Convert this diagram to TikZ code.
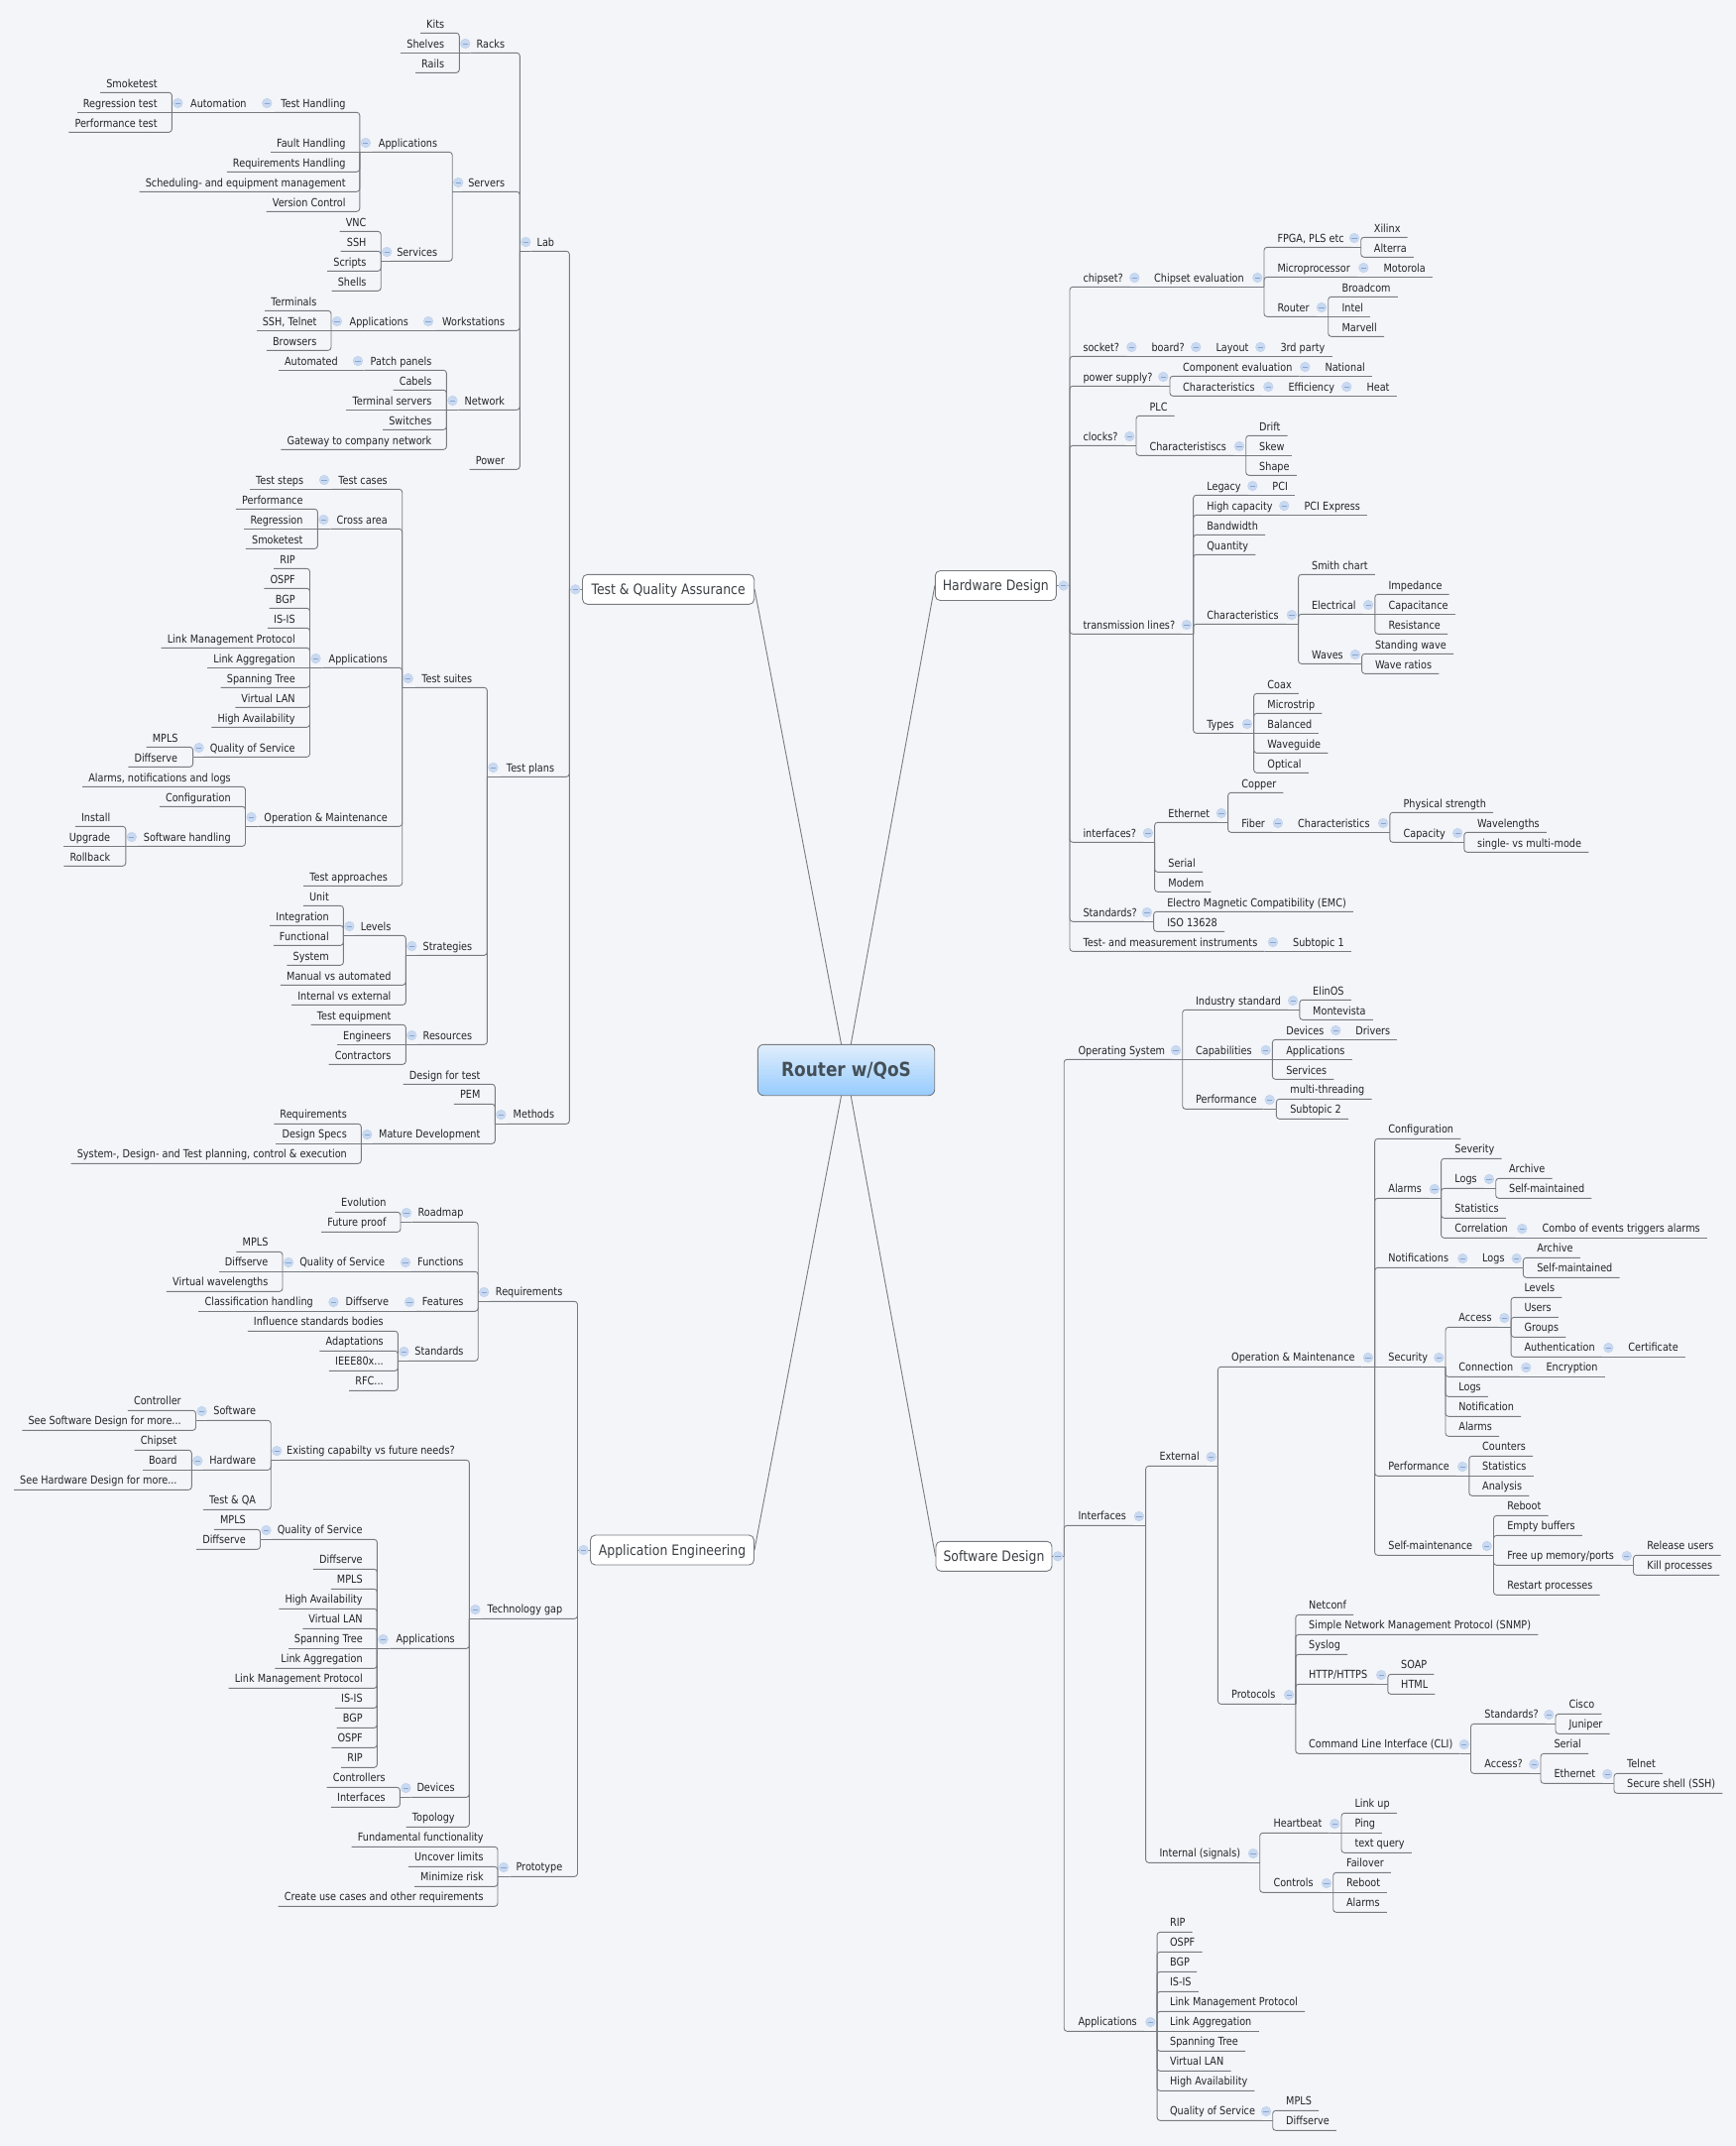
\documentclass[tikz,border=0pt]{standalone}
\usepackage{fontspec}
\setmainfont[FakeStretch=0.865]{DejaVu Sans}
\definecolor{pagebg}{HTML}{F3F5F9}
\definecolor{linegray}{HTML}{777B80}
\definecolor{inkdark}{HTML}{222426}
\definecolor{boxink}{HTML}{3C4044}
\definecolor{rootink}{HTML}{444F57}
\definecolor{rootop}{HTML}{E0EEFC}
\definecolor{rootbot}{HTML}{96CBFE}
\definecolor{iconfill}{HTML}{C9D9F0}
\definecolor{iconbar}{HTML}{87A5D2}
\tikzset{
    topic/.style = {font=\fontsize{11.2}{13}\selectfont,text=inkdark,inner ysep=0pt,text height=9pt,text depth=5pt},
    ltopic/.style = {topic,anchor=south east,inner xsep=6pt,xshift=6pt},
    rtopic/.style = {topic,anchor=south west,inner xsep=7pt,xshift=-7pt},
    link/.style = {draw=linegray,line width=0.9pt,rounded corners=3pt},
    mainbox/.style = {draw=linegray,fill=white,rounded corners=5pt,line width=0.9pt,minimum height=30pt,
        inner sep=0pt,text=boxink,text height=10pt,text depth=0pt,font=\fontsize{14.4}{16}\selectfont},
    rootbox/.style = {draw=linegray,top color=rootop,bottom color=rootbot,rounded corners=6pt,line width=0.9pt,
        minimum width=178.4pt,minimum height=51.4pt,inner sep=0pt,text=rootink,text height=12pt,text depth=0pt,
        font=\fontsize{19.6}{22}\selectfont\bfseries},
    minusdisc/.style = {fill=iconfill,draw=iconfill!85!iconbar,line width=0.5pt},
    minusbar/.style = {draw=iconbar,line width=0.9pt}
}
% minus sign beside a bracket, at a point
\newcommand{\minusat}[1]{
    \path[minusdisc] (#1) circle (4.8pt);
    \draw[minusbar] ([xshift=-2.6pt]#1) -- ([xshift=2.6pt]#1);
}
% line from a bracket point to the far end of a child: straight if they are level
\newcommand{\joinkid}[3]{
    \pgfpointanchor{#1}{center}\pgfgetlastxy{\fromx}{\fromy}
    \pgfpointanchor{#2}{#3}\pgfgetlastxy{\tox}{\toy}
    \pgfmathparse{abs(\fromy-\toy)<0.5 ? 1 : 0}
    \ifnum\pgfmathresult=1
        \draw[link] (#1) -- (#2.#3);
    \else
        \draw[link] (#1) |- (#2.#3);
    \fi
}
% children on the left of a parent: bracket x, parent, children
\newcommand{\lkids}[3]{
    \coordinate (#2br) at (#2.south west -| #1,0);
    \draw[link] (#2.south west) -- (#2br);
    \foreach \kid in {#3} {\joinkid{#2br}{\kid}{south west}}
    \coordinate (#2ic) at ([shift={(6,-9.3)}]#2br);
    \minusat{#2ic}
}
% children on the right of a parent: bracket x, parent, children
\newcommand{\rkids}[3]{
    \coordinate (#2br) at (#2.south east -| #1,0);
    \draw[link] (#2.south east) -- (#2br);
    \foreach \kid in {#3} {\joinkid{#2br}{\kid}{south east}}
    \coordinate (#2ic) at ([shift={(-6.7,-9.3)}]#2br);
    \minusat{#2ic}
}
\begin{document}
\begin{tikzpicture}[x=1pt,y=-1pt]
    \useasboundingbox (0,0) rectangle (1751,2164);
    \fill[pagebg] (0,0) rectangle (1751,2164);

    % centre and main topics
    \node[rootbox] (router) at (853.5,1079) {Router w/QoS};
    \node[mainbox,minimum width=173.2pt] (tqa) at (674.1,594.3) {Test \& Quality Assurance};
    \node[mainbox,minimum width=165pt] (appeng) at (678,1563) {Application Engineering};
    \node[mainbox,minimum width=122pt] (hwd) at (1004.3,590.5) {Hardware Design};
    \node[mainbox,minimum width=117pt] (swd) at (1002.5,1569.3) {Software Design};
    \draw[link] (router) -- (tqa.east);
    \draw[link] (router) -- (appeng.east);
    \draw[link] (router) -- (hwd.west);
    \draw[link] (router) -- (swd.west);

    \coordinate (tqabr) at (574.3,594.3);
    \coordinate (appbr) at (582.5,1563);
    \coordinate (hwdbr) at (1079,590.5);
    \coordinate (swdbr) at (1073.2,1569.3);

    % Test & Quality Assurance: lab
    \node[ltopic] (lab) at (559.3,253.3) {Lab};
    \node[ltopic] (racks) at (509.3,53.3) {Racks};
    \node[ltopic] (kits) at (448.3,33.3) {Kits};
    \node[ltopic] (shelves) at (448.3,53.3) {Shelves};
    \node[ltopic] (rails) at (448.3,73.3) {Rails};
    \node[ltopic] (servers) at (509.3,193.3) {Servers};
    \node[ltopic] (srvapps) at (441.3,153.3) {Applications};
    \node[ltopic] (testhand) at (348.8,113.3) {Test Handling};
    \node[ltopic] (automation) at (248.8,113.3) {Automation};
    \node[ltopic] (smoke) at (158.8,93.3) {Smoketest};
    \node[ltopic] (regress) at (158.8,113.3) {Regression test};
    \node[ltopic] (perftest) at (158.8,133.3) {Performance test};
    \node[ltopic] (faulth) at (348.8,153.3) {Fault Handling};
    \node[ltopic] (reqh) at (348.8,173.3) {Requirements Handling};
    \node[ltopic] (schedm) at (348.8,193.3) {Scheduling- and equipment management};
    \node[ltopic] (versc) at (348.8,213.3) {Version Control};
    \node[ltopic] (services) at (441.3,263.3) {Services};
    \node[ltopic] (vnc) at (369.7,233.3) {VNC};
    \node[ltopic] (ssh) at (369.7,253.3) {SSH};
    \node[ltopic] (scripts) at (369.7,273.3) {Scripts};
    \node[ltopic] (shells) at (369.7,293.3) {Shells};
    \node[ltopic] (workst) at (509.3,333.3) {Workstations};
    \node[ltopic] (wsapps) at (412,333.3) {Applications};
    \node[ltopic] (terminals) at (319.6,313.3) {Terminals};
    \node[ltopic] (sshtel) at (319.6,333.3) {SSH, Telnet};
    \node[ltopic] (browsers) at (319.6,353.3) {Browsers};
    \node[ltopic] (network) at (509.3,413.3) {Network};
    \node[ltopic] (patch) at (435.5,373.3) {Patch panels};
    \node[ltopic] (automated) at (341,373.3) {Automated};
    \node[ltopic] (cabels) at (435.5,393.3) {Cabels};
    \node[ltopic] (termsrv) at (435.5,413.3) {Terminal servers};
    \node[ltopic] (switches) at (435.5,433.3) {Switches};
    \node[ltopic] (gateway) at (435.5,453.3) {Gateway to company network};
    \node[ltopic] (power) at (509.3,473.3) {Power};

    % Test & Quality Assurance: test plans
    \node[ltopic] (plans) at (559.3,783.3) {Test plans};
    \node[ltopic] (suites) at (476.4,693.3) {Test suites};
    \node[ltopic] (cases) at (391,493.3) {Test cases};
    \node[ltopic] (steps) at (306.4,493.3) {Test steps};
    \node[ltopic] (cross) at (391,533.3) {Cross area};
    \node[ltopic] (caperf) at (305.7,513.3) {Performance};
    \node[ltopic] (careg) at (305.7,533.3) {Regression};
    \node[ltopic] (casmoke) at (305.7,553.3) {Smoketest};
    \node[ltopic] (tsapps) at (391,673.3) {Applications};
    \node[ltopic] (tsrip) at (297.9,573.3) {RIP};
    \node[ltopic] (tsospf) at (297.9,593.3) {OSPF};
    \node[ltopic] (tsbgp) at (297.9,613.3) {BGP};
    \node[ltopic] (tsisis) at (297.9,633.3) {IS-IS};
    \node[ltopic] (tslmp) at (297.9,653.3) {Link Management Protocol};
    \node[ltopic] (tslag) at (297.9,673.3) {Link Aggregation};
    \node[ltopic] (tsstp) at (297.9,693.3) {Spanning Tree};
    \node[ltopic] (tsvlan) at (297.9,713.3) {Virtual LAN};
    \node[ltopic] (tsha) at (297.9,733.3) {High Availability};
    \node[ltopic] (tsqos) at (297.9,763.3) {Quality of Service};
    \node[ltopic] (tsmpls) at (179.8,753.3) {MPLS};
    \node[ltopic] (tsdiff) at (179.3,773.3) {Diffserve};
    \node[ltopic] (tsom) at (391,833.3) {Operation \& Maintenance};
    \node[ltopic] (tsalarms) at (232.9,793.3) {Alarms, notifications and logs};
    \node[ltopic] (tsconf) at (232.9,813.3) {Configuration};
    \node[ltopic] (tssoft) at (232.9,853.3) {Software handling};
    \node[ltopic] (install) at (111.4,833.3) {Install};
    \node[ltopic] (upgrade) at (111.4,853.3) {Upgrade};
    \node[ltopic] (rollback) at (111.4,873.3) {Rollback};
    \node[ltopic] (approach) at (391,893.3) {Test approaches};
    \node[ltopic] (strateg) at (476.4,963.3) {Strategies};
    \node[ltopic] (levels) at (394.6,943.3) {Levels};
    \node[ltopic] (unit) at (332,913.3) {Unit};
    \node[ltopic] (integr) at (332,933.3) {Integration};
    \node[ltopic] (funct) at (332,953.3) {Functional};
    \node[ltopic] (system) at (332,973.3) {System};
    \node[ltopic] (manual) at (394.6,993.3) {Manual vs automated};
    \node[ltopic] (internal) at (394.6,1013.3) {Internal vs external};
    \node[ltopic] (resources) at (476.4,1053.3) {Resources};
    \node[ltopic] (equip) at (394.6,1033.3) {Test equipment};
    \node[ltopic] (engineers) at (394.6,1053.3) {Engineers};
    \node[ltopic] (contract) at (394.6,1073.3) {Contractors};

    % Test & Quality Assurance: methods
    \node[ltopic] (dft) at (484.6,1093.3) {Design for test};

    \begin{scope}[topic/.append style={text depth=6pt}]
    \node[ltopic] (methods) at (559.3,1133.3) {Methods};
    \node[ltopic] (pem) at (484.6,1113.3) {PEM};
    \node[ltopic] (mature) at (484.6,1153.3) {Mature Development};
    \node[ltopic] (mdreq) at (350,1133.3) {Requirements};
    \node[ltopic] (mdspecs) at (350,1153.3) {Design Specs};
    \node[ltopic] (mdplan) at (350,1173.3) {System-, Design- and Test planning, control \& execution};

    % Application Engineering: requirements
    \node[ltopic] (req) at (567.5,1312.3) {Requirements};
    \node[ltopic] (roadmap) at (467.7,1232.3) {Roadmap};
    \node[ltopic] (evol) at (389.6,1222.3) {Evolution};
    \node[ltopic] (future) at (389.6,1242.3) {Future proof};
    \node[ltopic] (functions) at (467.7,1282.3) {Functions};
    \node[ltopic] (fnqos) at (388.4,1282.3) {Quality of Service};
    \node[ltopic] (fnmpls) at (270.6,1262.3) {MPLS};
    \node[ltopic] (fndiff) at (270.6,1282.3) {Diffserve};
    \node[ltopic] (fnvw) at (270.6,1302.3) {Virtual wavelengths};
    \node[ltopic] (features) at (467.7,1322.3) {Features};
    \node[ltopic] (ftdiff) at (392.3,1322.3) {Diffserve};
    \node[ltopic] (ftclass) at (316,1322.3) {Classification handling};
    \node[ltopic] (standards) at (467.7,1372.3) {Standards};
    \node[ltopic] (influ) at (386.9,1342.3) {Influence standards bodies};
    \node[ltopic] (adapt) at (386.9,1362.3) {Adaptations};
    \node[ltopic] (ieee) at (386.9,1382.3) {IEEE80x...};
    \node[ltopic] (rfc) at (386.9,1402.3) {RFC...};

    % Application Engineering: technology gap
    \node[ltopic] (techgap) at (567.5,1632.3) {Technology gap};
    \node[ltopic] (existing) at (458.9,1472.3) {Existing capabilty vs future needs?};
    \node[ltopic] (exsoft) at (258.3,1432.3) {Software};
    \node[ltopic] (exctrl) at (182.9,1422.3) {Controller};
    \node[ltopic] (exsee) at (182.9,1442.3) {See Software Design for more...};
    \node[ltopic] (exhard) at (258.3,1482.3) {Hardware};
    \node[ltopic] (exchip) at (178.7,1462.3) {Chipset};
    \node[ltopic] (exboard) at (178.7,1482.3) {Board};
    \node[ltopic] (exseeh) at (178.7,1502.3) {See Hardware Design for more...};
    \node[ltopic] (extest) at (258.3,1522.3) {Test \& QA};
    \node[ltopic] (tgapps) at (458.9,1662.3) {Applications};
    \node[ltopic] (tgqos) at (365.9,1552.3) {Quality of Service};
    \node[ltopic] (tgqmpls) at (248,1542.3) {MPLS};
    \node[ltopic] (tgqdiff) at (248,1562.3) {Diffserve};
    \node[ltopic] (tgdiff) at (365.9,1582.3) {Diffserve};
    \node[ltopic] (tgmpls) at (365.9,1602.3) {MPLS};
    \node[ltopic] (tgha) at (365.9,1622.3) {High Availability};
    \node[ltopic] (tgvlan) at (365.9,1642.3) {Virtual LAN};
    \node[ltopic] (tgstp) at (365.9,1662.3) {Spanning Tree};
    \node[ltopic] (tglag) at (365.9,1682.3) {Link Aggregation};
    \node[ltopic] (tglmp) at (365.9,1702.3) {Link Management Protocol};
    \node[ltopic] (tgisis) at (365.9,1722.3) {IS-IS};
    \node[ltopic] (tgbgp) at (365.9,1742.3) {BGP};
    \node[ltopic] (tgospf) at (365.9,1762.3) {OSPF};
    \node[ltopic] (tgrip) at (365.9,1782.3) {RIP};
    \node[ltopic] (devices) at (458.9,1812.3) {Devices};
    \node[ltopic] (ctrls) at (388.8,1802.3) {Controllers};
    \node[ltopic] (ifaces) at (388.8,1822.3) {Interfaces};
    \node[ltopic] (topology) at (458.9,1842.3) {Topology};

    % Application Engineering: prototype
    \node[ltopic] (proto) at (567.5,1892.3) {Prototype};
    \node[ltopic] (fund) at (487.9,1862.3) {Fundamental functionality};
    \node[ltopic] (uncover) at (487.9,1882.3) {Uncover limits};
    \node[ltopic] (minrisk) at (487.9,1902.3) {Minimize risk};
    \node[ltopic] (usecases) at (487.9,1922.3) {Create use cases and other requirements};
    \end{scope}

    % Hardware Design
    \node[rtopic] (chipset) at (1092.3,289.3) {chipset?};
    \node[rtopic] (chipev) at (1164,289.3) {Chipset evaluation};
    \node[rtopic] (fpga) at (1288.3,249.3) {FPGA, PLS etc};
    \node[rtopic] (xilinx) at (1385.7,239.3) {Xilinx};
    \node[rtopic] (alterra) at (1385.7,259.3) {Alterra};
    \node[rtopic] (micro) at (1288.3,279.3) {Microprocessor};
    \node[rtopic] (motorola) at (1395.3,279.3) {Motorola};
    \node[rtopic] (router2) at (1288.3,319.3) {Router};
    \node[rtopic] (broadcom) at (1353.3,299.3) {Broadcom};
    \node[rtopic] (intel) at (1353.3,319.3) {Intel};
    \node[rtopic] (marvell) at (1353.3,339.3) {Marvell};
    \node[rtopic] (socket) at (1092.3,359.3) {socket?};
    \node[rtopic] (board) at (1161.3,359.3) {board?};
    \node[rtopic] (layout) at (1226.3,359.3) {Layout};
    \node[rtopic] (third) at (1291.3,359.3) {3rd party};
    \node[rtopic] (psupply) at (1092.3,389.3) {power supply?};
    \node[rtopic] (compev) at (1193,379.3) {Component evaluation};
    \node[rtopic] (national) at (1336.3,379.3) {National};
    \node[rtopic] (pschar) at (1193,399.3) {Characteristics};
    \node[rtopic] (effic) at (1299.3,399.3) {Efficiency};
    \node[rtopic] (heat) at (1378.3,399.3) {Heat};
    \node[rtopic] (clocks) at (1092.3,449.3) {clocks?};
    \node[rtopic] (plc) at (1159.3,419.3) {PLC};
    \node[rtopic] (clchar) at (1159.3,459.3) {Characteristiscs};
    \node[rtopic] (drift) at (1270,439.3) {Drift};
    \node[rtopic] (skew) at (1270,459.3) {Skew};
    \node[rtopic] (shape) at (1270,479.3) {Shape};
    \node[rtopic] (translines) at (1092.3,639.3) {transmission lines?};
    \node[rtopic] (legacy) at (1217.1,499.3) {Legacy};
    \node[rtopic] (pci) at (1283.2,499.3) {PCI};
    \node[rtopic] (highcap) at (1217.1,519.3) {High capacity};
    \node[rtopic] (pciex) at (1315.4,519.3) {PCI Express};
    \node[rtopic] (bandw) at (1217.1,539.3) {Bandwidth};
    \node[rtopic] (quant) at (1217.1,559.3) {Quantity};
    \node[rtopic] (tlchar) at (1217.1,629.3) {Characteristics};
    \node[rtopic] (smith) at (1322.9,579.3) {Smith chart};
    \node[rtopic] (electr) at (1322.9,619.3) {Electrical};
    \node[rtopic] (imped) at (1400.4,599.3) {Impedance};
    \node[rtopic] (capac) at (1400.4,619.3) {Capacitance};
    \node[rtopic] (resist) at (1400.4,639.3) {Resistance};
    \node[rtopic] (waves) at (1322.9,669.3) {Waves};
    \node[rtopic] (standw) at (1386.8,659.3) {Standing wave};
    \node[rtopic] (waver) at (1386.8,679.3) {Wave ratios};
    \node[rtopic] (types) at (1217.1,739.3) {Types};
    \node[rtopic] (coax) at (1278.2,699.3) {Coax};
    \node[rtopic] (microst) at (1278.2,719.3) {Microstrip};
    \node[rtopic] (balanced) at (1278.2,739.3) {Balanced};
    \node[rtopic] (waveg) at (1278.2,759.3) {Waveguide};
    \node[rtopic] (optical) at (1278.2,779.3) {Optical};
    \node[rtopic] (ifq) at (1092.3,849.3) {interfaces?};
    \node[rtopic] (ether) at (1178.2,829.3) {Ethernet};
    \node[rtopic] (copper) at (1252.1,799.3) {Copper};
    \node[rtopic] (fiber) at (1252.1,839.3) {Fiber};
    \node[rtopic] (fbchar) at (1308.9,839.3) {Characteristics};
    \node[rtopic] (physs) at (1415.4,819.3) {Physical strength};
    \node[rtopic] (capacity) at (1415.4,849.3) {Capacity};
    \node[rtopic] (wavel) at (1490,839.3) {Wavelengths};
    \node[rtopic] (single) at (1490,859.3) {single- vs multi-mode};
    \node[rtopic] (serial) at (1178.2,879.3) {Serial};
    \node[rtopic] (modem) at (1178.2,899.3) {Modem};
    \node[rtopic] (stdq) at (1092.3,929.3) {Standards?};
    \node[rtopic] (emc) at (1177.1,919.3) {Electro Magnetic Compatibility (EMC)};
    \node[rtopic] (iso) at (1177.1,939.3) {ISO 13628};
    \node[rtopic] (testmeas) at (1092.3,959.3) {Test- and measurement instruments};
    \node[rtopic] (subone) at (1303.9,959.3) {Subtopic 1};

    % Software Design: operating system
    \node[rtopic] (opsys) at (1087.3,1068.3) {Operating System};
    \node[rtopic] (indust) at (1205.9,1018.3) {Industry standard};
    \node[rtopic] (elinos) at (1324,1008.3) {ElinOS};
    \node[rtopic] (montev) at (1324,1028.3) {Montevista};
    \node[rtopic] (capab) at (1205.9,1068.3) {Capabilities};
    \node[rtopic] (devs) at (1297.1,1048.3) {Devices};
    \node[rtopic] (drivers) at (1367.2,1048.3) {Drivers};
    \node[rtopic] (capapps) at (1297.1,1068.3) {Applications};
    \node[rtopic] (capserv) at (1297.1,1088.3) {Services};

    \begin{scope}[topic/.append style={text depth=6pt}]
    \node[rtopic] (osperf) at (1205.9,1118.3) {Performance};
    \node[rtopic] (multi) at (1301.1,1108.3) {multi-threading};
    \node[rtopic] (subtwo) at (1301.1,1128.3) {Subtopic 2};

    % Software Design: interfaces, operation and maintenance
    \node[rtopic] (swif) at (1087.3,1538.3) {Interfaces};
    \node[rtopic] (external) at (1169.3,1478.3) {External};
    \node[rtopic] (swom) at (1242,1378.3) {Operation \& Maintenance};
    \node[rtopic] (swconf) at (1400.2,1148.3) {Configuration};
    \node[rtopic] (swalarms) at (1400.2,1208.3) {Alarms};
    \node[rtopic] (severity) at (1467.2,1168.3) {Severity};
    \node[rtopic] (allogs) at (1467.2,1198.3) {Logs};
    \node[rtopic] (alarch) at (1521.9,1188.3) {Archive};
    \node[rtopic] (alself) at (1521.9,1208.3) {Self-maintained};
    \node[rtopic] (alstat) at (1467.2,1228.3) {Statistics};
    \node[rtopic] (correl) at (1467.2,1248.3) {Correlation};
    \node[rtopic] (combo) at (1555.4,1248.3) {Combo of events triggers alarms};
    \node[rtopic] (notif) at (1400.2,1278.3) {Notifications};
    \node[rtopic] (nologs) at (1495,1278.3) {Logs};
    \node[rtopic] (noarch) at (1550.1,1268.3) {Archive};
    \node[rtopic] (noself) at (1550.1,1288.3) {Self-maintained};
    \node[rtopic] (security) at (1400.2,1378.3) {Security};
    \node[rtopic] (access) at (1471.2,1338.3) {Access};
    \node[rtopic] (aclev) at (1537.3,1308.3) {Levels};
    \node[rtopic] (acusers) at (1537.3,1328.3) {Users};
    \node[rtopic] (acgroups) at (1537.3,1348.3) {Groups};
    \node[rtopic] (acauth) at (1537.3,1368.3) {Authentication};
    \node[rtopic] (certif) at (1642.2,1368.3) {Certificate};
    \node[rtopic] (connect) at (1471.2,1388.3) {Connection};
    \node[rtopic] (encrypt) at (1559.3,1388.3) {Encryption};
    \node[rtopic] (selogs) at (1471.2,1408.3) {Logs};
    \node[rtopic] (senotif) at (1471.2,1428.3) {Notification};
    \node[rtopic] (sealarms) at (1471.2,1448.3) {Alarms};
    \node[rtopic] (swperf) at (1400.2,1488.3) {Performance};
    \node[rtopic] (counters) at (1495,1468.3) {Counters};
    \node[rtopic] (pfstat) at (1495,1488.3) {Statistics};
    \node[rtopic] (analysis) at (1495,1508.3) {Analysis};
    \node[rtopic] (selfm) at (1400.2,1568.3) {Self-maintenance};
    \node[rtopic] (smreboot) at (1520.1,1528.3) {Reboot};
    \node[rtopic] (empty) at (1520.1,1548.3) {Empty buffers};
    \node[rtopic] (freeup) at (1520.1,1578.3) {Free up memory/ports};
    \node[rtopic] (release) at (1661.2,1568.3) {Release users};
    \node[rtopic] (killp) at (1661.2,1588.3) {Kill processes};
    \node[rtopic] (restart) at (1520.1,1608.3) {Restart processes};

    % Software Design: protocols
    \node[rtopic] (protocols) at (1242,1718.3) {Protocols};
    \node[rtopic] (netconf) at (1320,1628.3) {Netconf};
    \node[rtopic] (snmp) at (1320,1648.3) {Simple Network Management Protocol (SNMP)};
    \node[rtopic] (syslog) at (1320,1668.3) {Syslog};
    \node[rtopic] (http) at (1320,1698.3) {HTTP/HTTPS};
    \node[rtopic] (soap) at (1413,1688.3) {SOAP};
    \node[rtopic] (html) at (1413,1708.3) {HTML};
    \node[rtopic] (cli) at (1320,1768.3) {Command Line Interface (CLI)};
    \node[rtopic] (clistd) at (1497.2,1738.3) {Standards?};
    \node[rtopic] (cisco) at (1582.3,1728.3) {Cisco};
    \node[rtopic] (juniper) at (1582.3,1748.3) {Juniper};
    \node[rtopic] (cliacc) at (1497.2,1788.3) {Access?};
    \node[rtopic] (clserial) at (1567.3,1768.3) {Serial};
    \node[rtopic] (clether) at (1567.3,1798.3) {Ethernet};
    \node[rtopic] (telnet) at (1640.9,1788.3) {Telnet};
    \node[rtopic] (secsh) at (1640.9,1808.3) {Secure shell (SSH)};

    % Software Design: internal signals
    \node[rtopic] (internsig) at (1169.3,1878.3) {Internal (signals)};
    \node[rtopic] (heartb) at (1284.3,1848.3) {Heartbeat};
    \node[rtopic] (linkup) at (1366.3,1828.3) {Link up};
    \node[rtopic] (ping) at (1366.3,1848.3) {Ping};
    \node[rtopic] (textq) at (1366.3,1868.3) {text query};
    \node[rtopic] (controls) at (1284.3,1908.3) {Controls};
    \node[rtopic] (failover) at (1357.9,1888.3) {Failover};
    \node[rtopic] (coreboot) at (1357.9,1908.3) {Reboot};
    \node[rtopic] (coalarms) at (1357.9,1928.3) {Alarms};

    % Software Design: applications
    \node[rtopic] (swapps) at (1087.3,2048.3) {Applications};
    \node[rtopic] (swrip) at (1179.9,1948.3) {RIP};
    \node[rtopic] (swospf) at (1179.9,1968.3) {OSPF};
    \node[rtopic] (swbgp) at (1179.9,1988.3) {BGP};
    \node[rtopic] (swisis) at (1179.9,2008.3) {IS-IS};
    \node[rtopic] (swlmp) at (1179.9,2028.3) {Link Management Protocol};
    \node[rtopic] (swlag) at (1179.9,2048.3) {Link Aggregation};
    \node[rtopic] (swstp) at (1179.9,2068.3) {Spanning Tree};
    \node[rtopic] (swvlan) at (1179.9,2088.3) {Virtual LAN};
    \node[rtopic] (swha) at (1179.9,2108.3) {High Availability};
    \node[rtopic] (swqos) at (1179.9,2138.3) {Quality of Service};
    \node[rtopic] (swmpls) at (1297,2128.3) {MPLS};
    \node[rtopic] (swdiff) at (1297,2148.3) {Diffserve};
    \end{scope}

    % connectors of the main topics
    \draw[link] (tqa.west) -- (tqabr);
    \draw[link] (appeng.west) -- (appbr);
    \draw[link] (hwd.east) -- (hwdbr);
    \draw[link] (swd.east) -- (swdbr);
    \foreach \kid in {lab,plans,methods} \draw[link] (tqabr) |- (\kid.south west);
    \foreach \kid in {req,techgap,proto} \draw[link] (appbr) |- (\kid.south west);
    \foreach \kid in {chipset,socket,psupply,clocks,translines,ifq,stdq,testmeas} \draw[link] (hwdbr) |- (\kid.south east);
    \foreach \kid in {opsys,swif,swapps} \draw[link] (swdbr) |- (\kid.south east);
    \coordinate (tqaic) at (580.3,594.3);
    \coordinate (appic) at (588.5,1563);
    \coordinate (hwdic) at (1072.7,590.5);
    \coordinate (swdic) at (1067,1569.3);
    \minusat{tqaic}
    \minusat{appic}
    \minusat{hwdic}
    \minusat{swdic}

    % left side
    \lkids{524.3}{lab}{racks,servers,workst,network,power}
    \lkids{463.3}{racks}{kits,shelves,rails}
    \lkids{456.2}{servers}{srvapps,services}
    \lkids{362.8}{srvapps}{testhand,faulth,reqh,schedm,versc}
    \lkids{263.3}{testhand}{automation}
    \lkids{173.4}{automation}{smoke,regress,perftest}
    \lkids{384.2}{services}{vnc,ssh,scripts,shells}
    \lkids{426}{workst}{wsapps}
    \lkids{334}{wsapps}{terminals,sshtel,browsers}
    \lkids{450.4}{network}{patch,cabels,termsrv,switches,gateway}
    \lkids{355}{patch}{automated}
    \lkids{491.4}{plans}{suites,strateg,resources}
    \lkids{405.7}{suites}{cases,cross,tsapps,tsom,approach}
    \lkids{321}{cases}{steps}
    \lkids{320.4}{cross}{caperf,careg,casmoke}
    \lkids{312.5}{tsapps}{tsrip,tsospf,tsbgp,tsisis,tslmp,tslag,tsstp,tsvlan,tsha,tsqos}
    \lkids{194.6}{tsqos}{tsmpls,tsdiff}
    \lkids{247.5}{tsom}{tsalarms,tsconf,tssoft}
    \lkids{126.8}{tssoft}{install,upgrade,rollback}
    \lkids{409.3}{strateg}{levels,manual,internal}
    \lkids{346.4}{levels}{unit,integr,funct,system}
    \lkids{409.3}{resources}{equip,engineers,contract}
    \lkids{499.3}{methods}{dft,pem,mature}
    \lkids{364.3}{mature}{mdreq,mdspecs,mdplan}
    \lkids{482.2}{req}{roadmap,functions,features,standards}
    \lkids{404}{roadmap}{evol,future}
    \lkids{403}{functions}{fnqos}
    \lkids{285}{fnqos}{fnmpls,fndiff,fnvw}
    \lkids{407}{features}{ftdiff}
    \lkids{330.4}{ftdiff}{ftclass}
    \lkids{401.4}{standards}{influ,adapt,ieee,rfc}
    \lkids{473.4}{techgap}{existing,tgapps,devices,topology}
    \lkids{273.2}{existing}{exsoft,exhard,extest}
    \lkids{197.5}{exsoft}{exctrl,exsee}
    \lkids{193.3}{exhard}{exchip,exboard,exseeh}
    \lkids{380.4}{tgapps}{tgqos,tgdiff,tgmpls,tgha,tgvlan,tgstp,tglag,tglmp,tgisis,tgbgp,tgospf,tgrip}
    \lkids{262.5}{tgqos}{tgqmpls,tgqdiff}
    \lkids{403.4}{devices}{ctrls,ifaces}
    \lkids{502}{proto}{fund,uncover,minrisk,usecases}

    % right side
    \rkids{1151}{chipset}{chipev}
    \rkids{1275}{chipev}{fpga,micro,router2}
    \rkids{1372.7}{fpga}{xilinx,alterra}
    \rkids{1382}{micro}{motorola}
    \rkids{1339.7}{router2}{broadcom,intel,marvell}
    \rkids{1148}{socket}{board}
    \rkids{1213}{board}{layout}
    \rkids{1278}{layout}{third}
    \rkids{1180}{psupply}{compev,pschar}
    \rkids{1323}{compev}{national}
    \rkids{1286}{pschar}{effic}
    \rkids{1365}{effic}{heat}
    \rkids{1146}{clocks}{plc,clchar}
    \rkids{1256.7}{clchar}{drift,skew,shape}
    \rkids{1203.6}{translines}{legacy,highcap,bandw,quant,tlchar,types}
    \rkids{1270}{legacy}{pci}
    \rkids{1302}{highcap}{pciex}
    \rkids{1309.6}{tlchar}{smith,electr,waves}
    \rkids{1386.8}{electr}{imped,capac,resist}
    \rkids{1373.6}{waves}{standw,waver}
    \rkids{1264.6}{types}{coax,microst,balanced,waveg,optical}
    \rkids{1164.6}{ifq}{ether,serial,modem}
    \rkids{1238.6}{ether}{copper,fiber}
    \rkids{1295.6}{fiber}{fbchar}
    \rkids{1401.8}{fbchar}{physs,capacity}
    \rkids{1476.8}{capacity}{wavel,single}
    \rkids{1163.6}{stdq}{emc,iso}
    \rkids{1290.6}{testmeas}{subone}
    \rkids{1192.7}{opsys}{indust,capab,osperf}
    \rkids{1310.8}{indust}{elinos,montev}
    \rkids{1283.4}{capab}{devs,capapps,capserv}
    \rkids{1354}{devs}{drivers}
    \rkids{1287.4}{osperf}{multi,subtwo}
    \rkids{1155.6}{swif}{external,internsig}
    \rkids{1228.4}{external}{swom,protocols}
    \rkids{1386.6}{swom}{swconf,swalarms,notif,security,swperf,selfm}
    \rkids{1453.6}{swalarms}{severity,allogs,alstat,correl}
    \rkids{1508.7}{allogs}{alarch,alself}
    \rkids{1542}{correl}{combo}
    \rkids{1482}{notif}{nologs}
    \rkids{1536.4}{nologs}{noarch,noself}
    \rkids{1458}{security}{access,connect,selogs,senotif,sealarms}
    \rkids{1524.1}{access}{aclev,acusers,acgroups,acauth}
    \rkids{1629}{acauth}{certif}
    \rkids{1546}{connect}{encrypt}
    \rkids{1481.8}{swperf}{counters,pfstat,analysis}
    \rkids{1506.5}{selfm}{smreboot,empty,freeup,restart}
    \rkids{1647.5}{freeup}{release,killp}
    \rkids{1306.8}{protocols}{netconf,snmp,syslog,http,cli}
    \rkids{1399.8}{http}{soap,html}
    \rkids{1483.5}{cli}{clistd,cliacc}
    \rkids{1569}{clistd}{cisco,juniper}
    \rkids{1554}{cliacc}{clserial,clether}
    \rkids{1628}{clether}{telnet,secsh}
    \rkids{1270.7}{internsig}{heartb,controls}
    \rkids{1353}{heartb}{linkup,ping,textq}
    \rkids{1344.7}{controls}{failover,coreboot,coalarms}
    \rkids{1167.1}{swapps}{swrip,swospf,swbgp,swisis,swlmp,swlag,swstp,swvlan,swha,swqos}
    \rkids{1283.7}{swqos}{swmpls,swdiff}
\end{tikzpicture}
\end{document}
